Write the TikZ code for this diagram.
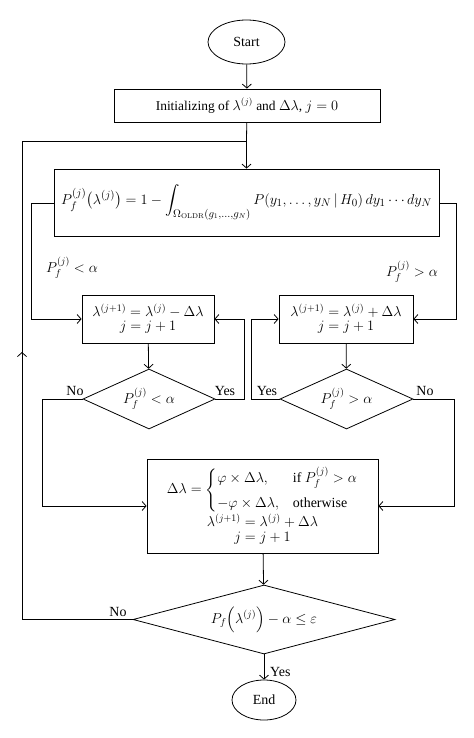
\documentclass[tikz,border=0pt]{standalone}
\usepackage{amsmath}
\usepackage[no-math]{fontspec}
\setmainfont{Liberation Serif}
\usetikzlibrary{shapes.geometric,arrows.meta}
\tikzset{
  every node/.style={font=\fontsize{14}{16}\selectfont},
  box/.style={draw, line width=0.8bp, rectangle, inner sep=2bp},
  oval/.style={draw, line width=0.8bp, ellipse, inner sep=0pt},
  decide/.style={draw, line width=0.8bp, diamond, inner sep=0pt},
  conn/.style={line width=0.8bp},
  arr/.style={conn, -{Straight Barb[length=4bp,width=9bp]}},
  lbl/.style={inner sep=0pt}
}
\begin{document}
\begin{tikzpicture}[x=1bp,y=-1bp]
\useasboundingbox (0,0) rectangle (474,738);
\node[oval, minimum width=77bp, minimum height=44bp] (start) at (246.5,42) {Start};
\node[box, minimum width=266bp, minimum height=33bp, font=\fontsize{13.5}{16}\selectfont] (init) at (247,105.5) {Initializing of $\lambda^{(j)}$ and $\Delta\lambda$, $j=0$};
\node[box, minimum width=385bp, minimum height=67bp, font=\fontsize{15}{17}\selectfont] (pf) at (246.5,202.5)
  {$\displaystyle P_f^{(j)}\bigl(\lambda^{(j)}\bigr) = 1 - \int_{\Omega_{\mathrm{OLDR}}(g_1,\dots,g_N)} P(y_1,\dots,y_N\,|\,H_0)\,dy_1\cdots dy_N$};
\node[box, minimum width=132bp, minimum height=48bp, align=center] (bl) at (148,319)
  {$\lambda^{(j+1)}=\lambda^{(j)}-\Delta\lambda$\\[-2pt] $j=j+1$};
\node[box, minimum width=134bp, minimum height=48bp, align=center] (br) at (346,319)
  {$\lambda^{(j+1)}=\lambda^{(j)}+\Delta\lambda$\\[-2pt] $j=j+1$};
\node[decide, aspect=2.2, minimum width=132bp, minimum height=60bp] (dl) at (149,399) {$P_f^{(j)}<\alpha$};
\node[decide, aspect=2.2, minimum width=133bp, minimum height=60bp] (dr) at (346.5,399) {$P_f^{(j)}>\alpha$};
\node[box, minimum width=231bp, minimum height=94bp, align=center, inner sep=1bp] (upd) at (262.5,506)
  {$\Delta\lambda=\begin{cases}\varphi\times\Delta\lambda, & \text{if } P_f^{(j)}>\alpha\\[6pt] -\varphi\times\Delta\lambda, & \text{otherwise}\end{cases}$\\[0pt]
   $\lambda^{(j+1)}=\lambda^{(j)}+\Delta\lambda$\\[-1pt] $j=j+1$};
\node[decide, aspect=3.8, minimum width=262bp, minimum height=69bp] (df) at (264,619.5) {$P_f\Bigl(\lambda^{(j)}\Bigr)-\alpha\le\varepsilon$};
\node[oval, minimum width=64bp, minimum height=40bp] (end) at (264,700) {End};

\coordinate (j1) at (246.5,141);
\coordinate (pfL) at (31,203);
\coordinate (pfR) at (456,203);
\coordinate (ylo) at (244,399);
\coordinate (yro) at (251,399);
\coordinate (nlo) at (42,399);
\coordinate (nro) at (454,399);
\coordinate (lpA) at (22,619.5);
\coordinate (lpB) at (22,141);
\coordinate (lpM) at (22,352);

\draw[arr] (start) -- (init);
\draw[conn] (init) -- (j1);
\draw[arr] (j1) -- (pf);
\draw[arr] (pf.west |- pfL) -- (pfL) |- (bl.west);
\draw[arr] (pf.east |- pfR) -- (pfR) |- (br.east);
\draw[arr] (bl) -- (dl);
\draw[arr] (br) -- (dr);
\draw[arr] (dl.east) -- (ylo) |- (bl.east);
\draw[arr] (dr.west) -- (yro) |- (br.west);
\draw[arr] (dl.west) -- (nlo) |- (upd.west);
\draw[arr] (dr.east) -- (nro) |- (upd.east);
\draw[arr] (upd) -- (df);
\draw[conn] (df.west) -- (lpA) -- (lpB) -- (j1);
\draw[arr] (lpA) -- (lpM);
\draw[arr] (df) -- (end);

\node[lbl] (l1) at (72,268) {$P_f^{(j)}<\alpha$};
\node[lbl] (l2) at (412,272) {$P_f^{(j)}>\alpha$};
\node[lbl] (n1) at (75,391) {No};
\node[lbl] (y1) at (225,391) {Yes};
\node[lbl] (y2) at (267,391) {Yes};
\node[lbl] (n2) at (425,391) {No};
\node[lbl] (n3) at (118,612) {No};
\node[lbl, anchor=west] (y3) at (270,672) {Yes};
\end{tikzpicture}
\end{document}
